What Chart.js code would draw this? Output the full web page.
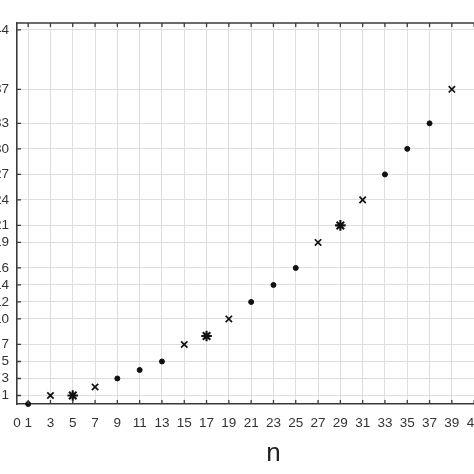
<!DOCTYPE html>
<html><head><meta charset="utf-8">
<style>
html,body{margin:0;padding:0;background:#fff;overflow:hidden;width:474px;height:474px}
#wrap{position:absolute;left:-60px;top:0;width:620px;height:474px}
</style>
<script src="https://cdn.jsdelivr.net/npm/chart.js@4/dist/chart.umd.min.js"></script>
</head><body>
<div id="wrap"><canvas id="c" width="620" height="474"></canvas></div>
<script>
// ---- data ----
const nValues = [1,3,5,7,9,11,13,15,17,19,21,23,25,27,29,31,33,35,37,39];
const countValues = [0,1,1,2,3,4,5,7,8,10,12,14,16,19,21,24,27,30,33,37];
const markerTypes = ['dot','x','star','x','dot','dot','dot','x','star','x','dot','dot','dot','x','star','x','dot','dot','dot','x'];
const xTickValues = [0,1,3,5,7,9,11,13,15,17,19,21,23,25,27,29,31,33,35,37,39,41];
const yTickValues = [1,3,5,7,10,12,14,16,19,21,24,27,30,33,37,44];
const xTitle = 'n';

// ---- layout ----
const CW = 620, CH = 474;
const X_MIN = 0, X_MAX = 46, Y_MIN = 0, Y_MAX = 44.8;
const PLOT_LEFT = 77, PLOT_TOP = 23, PLOT_BOTTOM = 404;
const PX_PER_X = 11.15;
const PLOT_RIGHT = PLOT_LEFT + (X_MAX - X_MIN) * PX_PER_X;

const styleMap = {dot:'circle', x:'crossRot', star:'star'};
const radiusMap = {dot:2.5, x:4.5, star:5.3};
const bwMap = {dot:1, x:1.7, star:2.1};

const points = nValues.map((n,i)=>({x:n, y:countValues[i]}));

const frame = {
  id:'frame',
  afterDatasetsDraw(chart){
    const {ctx, chartArea:a, scales:{x,y}} = chart;
    ctx.save();
    ctx.strokeStyle = '#3a3a3a';
    ctx.lineWidth = 1.5;
    ctx.beginPath();
    ctx.moveTo(a.left, a.top); ctx.lineTo(a.right, a.top);
    ctx.stroke();
    ctx.lineWidth = 1.3;
    ctx.beginPath();
    x.ticks.forEach(t=>{
      const px = x.getPixelForValue(t.value);
      if (px <= a.left + 1) return;
      ctx.moveTo(px, a.bottom); ctx.lineTo(px, a.bottom - 4);
      ctx.moveTo(px, a.top); ctx.lineTo(px, a.top + 4);
    });
    y.ticks.forEach(t=>{
      const py = y.getPixelForValue(t.value);
      ctx.moveTo(a.left, py); ctx.lineTo(a.left + 4, py);
    });
    ctx.stroke();
    ctx.restore();
  }
};

new Chart(document.getElementById('c'), {
  type:'scatter',
  data:{datasets:[{
    data: points,
    pointStyle: markerTypes.map(m=>styleMap[m]),
    pointRadius: markerTypes.map(m=>radiusMap[m]),
    pointBorderWidth: markerTypes.map(m=>bwMap[m]),
    backgroundColor:'#111',
    borderColor:'#111',
    clip:false
  }]},
  options:{
    responsive:false,
    animation:false,
    devicePixelRatio:1,
    layout:{padding:{left:0, top:PLOT_TOP, right:CW-PLOT_RIGHT, bottom:0}},
    plugins:{legend:{display:false}, tooltip:{enabled:false}},
    scales:{
      x:{
        type:'linear', min:X_MIN, max:X_MAX,
        afterBuildTicks(s){ s.ticks = xTickValues.map(v=>({value:v})); },
        afterFit(s){ s.height = CH - PLOT_BOTTOM; },
        ticks:{color:'#333', font:{family:'Liberation Sans, Arial, sans-serif', size:13.5}, padding:11, maxRotation:0, autoSkip:false, callback:v=>String(v)},
        grid:{color:'#dedede', lineWidth:1, drawTicks:false},
        border:{display:true, color:'#3a3a3a', width:1.5},
        title:{display:true, text:xTitle, color:'#222', font:{family:'Liberation Sans, Arial, sans-serif', size:26}, padding:{top:0,bottom:5}}
      },
      y:{
        type:'linear', min:Y_MIN, max:Y_MAX,
        afterBuildTicks(s){ s.ticks = yTickValues.map(v=>({value:v})); },
        afterFit(s){ s.width = PLOT_LEFT; },
        ticks:{color:'#333', font:{family:'Liberation Sans, Arial, sans-serif', size:13.5}, padding:8, autoSkip:false, callback:v=>String(v)},
        grid:{color:'#dedede', lineWidth:1, drawTicks:false},
        border:{display:true, color:'#3a3a3a', width:1.5}
      }
    }
  },
  plugins:[frame]
});
</script>
</body></html>
